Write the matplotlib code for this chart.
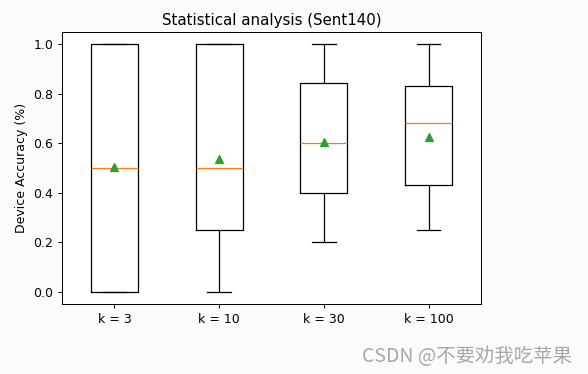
import matplotlib.pyplot as plt

plt.rcParams['font.family'] = ['DejaVu Sans', 'Noto Sans CJK SC']

labels = ['k = 3', 'k = 10', 'k = 30', 'k = 100']
whis_low = [0.0, 0.0, 0.2, 0.25]
q1 = [0.0, 0.25, 0.4, 0.433]
medians = [0.5, 0.5, 0.6, 0.68]
q3 = [1.0, 1.0, 0.843, 0.832]
whis_high = [1.0, 1.0, 1.0, 1.0]
means = [0.505, 0.538, 0.605, 0.625]

stats = []
for i in range(len(labels)):
    stats.append({'label': labels[i], 'whislo': whis_low[i], 'q1': q1[i],
                  'med': medians[i], 'q3': q3[i], 'whishi': whis_high[i],
                  'mean': means[i], 'fliers': []})

fig = plt.figure(figsize=(588 / 90, 374 / 90), dpi=90, facecolor='#fbfbfb')
ax = fig.add_axes([62 / 588, 70 / 374, 419 / 588, 272 / 374])
ax.bxp(stats, showmeans=True)
ax.set_ylim(-0.05, 1.05)
ax.set_title('Statistical analysis (Sent140)')
ax.set_ylabel('Device Accuracy (%)')

fig.text(572 / 588, 18 / 374, 'CSDN @不要劝我吃苹果', ha='right', va='center',
         fontsize=15.5, color='#a8a8a8',
         family=['Noto Sans CJK SC', 'DejaVu Sans'])

fig.savefig('out.png', dpi=90, facecolor=fig.get_facecolor())
